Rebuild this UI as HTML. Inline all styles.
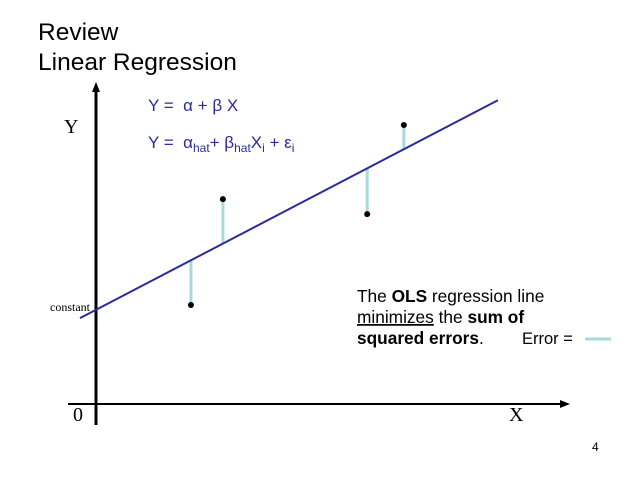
<!DOCTYPE html>
<html><head><meta charset="utf-8"><style>
html,body{margin:0;padding:0;background:#fff;}
svg{display:block;font-family:"Liberation Sans",sans-serif;}
text{white-space:pre;}
</style></head><body>
<svg id="c" width="638" height="478" viewBox="0 0 638 478">
<text x="38" y="40" font-size="24.5" fill="#000">Review</text>
<text x="38" y="70" font-size="24.5" fill="#000">Linear Regression</text>
<g id="axes">
<line x1="96" y1="425" x2="96" y2="90" stroke="#000" stroke-width="3"/>
<polygon points="96,82 92,92 100,92" fill="#000"/>
<line x1="68" y1="404" x2="562" y2="404" stroke="#000" stroke-width="2"/>
<polygon points="570,404 560,400 560,408" fill="#000"/>
</g>
<text x="64" y="133" font-family="Liberation Serif,serif" font-size="20">Y</text>
<text x="509" y="421" font-family="Liberation Serif,serif" font-size="20">X</text>
<text x="73" y="421" font-family="Liberation Serif,serif" font-size="20">0</text>
<text x="50" y="311" font-family="Liberation Serif,serif" font-size="12">constant</text>
<text x="148" y="111" font-size="17" fill="#2b2b9b">Y =  α + β X</text>
<text x="148" y="148" font-size="17" fill="#2b2b9b">Y =  α<tspan font-size="12" dy="4">hat</tspan><tspan dy="-4">+ β</tspan><tspan font-size="12" dy="4">hat</tspan><tspan dy="-4">X</tspan><tspan font-size="12" dy="4">i</tspan><tspan dy="-4"> + ε</tspan><tspan font-size="12" dy="4">i</tspan></text>
<g id="marks"></g>
<text x="357" y="302" font-size="17.3">The <tspan font-weight="bold">OLS</tspan> regression line</text>
<text x="357" y="323" font-size="17.3"><tspan text-decoration="underline">minimizes</tspan> the <tspan font-weight="bold">sum of</tspan></text>
<text x="357" y="344" font-size="17.3"><tspan font-weight="bold">squared errors</tspan>.</text>
<text x="522" y="344" font-size="16.5">Error =</text>
<line x1="585" y1="339" x2="611" y2="339" stroke="#a8d8e0" stroke-width="3"/>
<text x="592" y="451" font-size="12">4</text>
</svg>
<script>
const pointsX = [20.2, 27.0, 57.7, 65.5];
const pointsY = [33.0, 68.3, 63.3, 93.0];
const alpha = 31.4;
const beta = 0.817;
const lineRange = [-3.4, 85.5];
const xScale = v => 96 + v * 4.7;
const yScale = v => 404 - v * 3;
const NS = "http://www.w3.org/2000/svg";
const g = document.getElementById('marks');
const fit = x => alpha + beta * x;
for (let i = 0; i < pointsX.length; i++) {
  const l = document.createElementNS(NS, 'line');
  l.setAttribute('x1', xScale(pointsX[i])); l.setAttribute('x2', xScale(pointsX[i]));
  l.setAttribute('y1', yScale(pointsY[i])); l.setAttribute('y2', yScale(fit(pointsX[i])));
  l.setAttribute('stroke', '#a8d8e0'); l.setAttribute('stroke-width', '3');
  
  
  g.appendChild(l);
}
const rl = document.createElementNS(NS, 'line');
rl.setAttribute('x1', xScale(lineRange[0])); rl.setAttribute('y1', yScale(fit(lineRange[0])));
rl.setAttribute('x2', xScale(lineRange[1])); rl.setAttribute('y2', yScale(fit(lineRange[1])));
rl.setAttribute('stroke', '#2b2b9b'); rl.setAttribute('stroke-width', '2');


g.appendChild(rl);
for (let i = 0; i < pointsX.length; i++) {
  const c = document.createElementNS(NS, 'circle');
  c.setAttribute('cx', xScale(pointsX[i])); c.setAttribute('cy', yScale(pointsY[i]));
  c.setAttribute('r', '3'); c.setAttribute('fill', '#000');
  
  
  g.appendChild(c);
}
</script>
</body></html>
